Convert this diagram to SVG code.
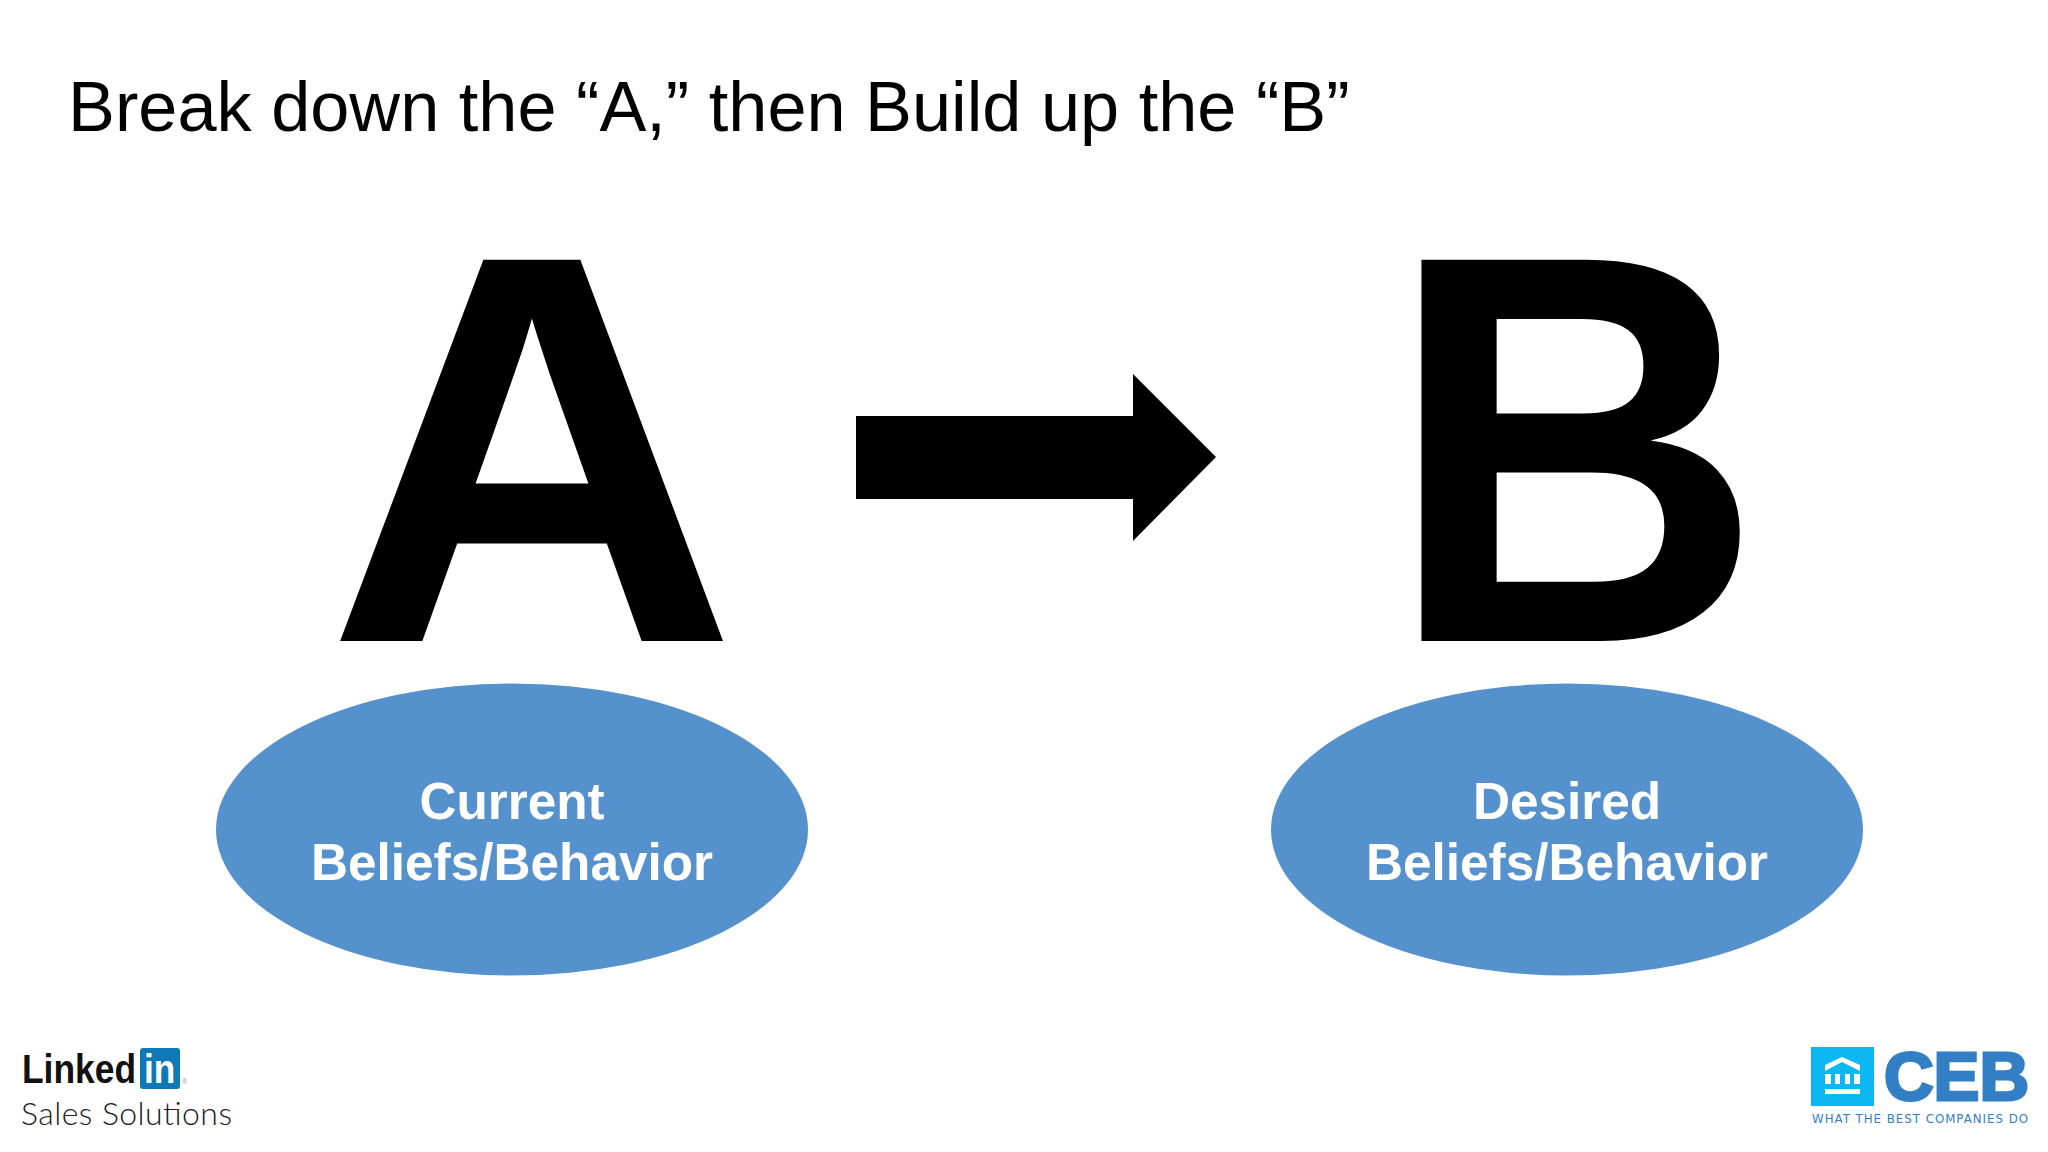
<svg xmlns="http://www.w3.org/2000/svg" width="2048" height="1152" viewBox="0 0 2048 1152">
<style>
text{font-family:"Liberation Sans",Arial,sans-serif}
.big{font-size:554px;font-weight:700;fill:#000;text-anchor:middle}
.lab{font-size:51.3px;font-weight:700;fill:#fff;text-anchor:middle}
.oval{fill:#5591cc}
.w{fill:#fff}
</style>
<rect width="2048" height="1152" fill="#fff"/>
<text id="title" x="68" y="131" font-size="70.3" fill="#000">Break down the “A,” then Build up the “B”</text>
<g id="node-a"><text class="big" transform="translate(532 641) scale(1.03 1)" x="0" y="0">A</text></g>
<g id="node-b"><text class="big" transform="translate(1575 641) scale(.942 1)" x="0" y="0">B</text></g>
<g id="connectors"><polygon points="856,416 1133,416 1133,374 1216,457 1133,541 1133,499 856,499" fill="#000"/></g>
<g id="node-current"><ellipse class="oval" cx="512" cy="829.5" rx="296" ry="146"/><text class="lab" x="512" y="819">Current</text><text class="lab" x="512" y="880">Beliefs/Behavior</text></g>
<g id="node-desired"><ellipse class="oval" cx="1567" cy="829.5" rx="296" ry="146"/><text class="lab" x="1567" y="819">Desired</text><text class="lab" x="1567" y="880">Beliefs/Behavior</text></g>
<g id="logo-linkedin">
<text transform="translate(22 1083) scale(.885 1)" x="0" y="0" font-size="40" font-weight="700" fill="#111">Linked</text>
<rect x="140" y="1048" width="40" height="41" rx="3" fill="#0f79b8"/>
<text transform="translate(144 1083) scale(.88 1)" x="0" y="0" font-size="40" font-weight="700" fill="#fff">in</text>
<text x="182" y="1084" font-size="7" fill="#999">®</text>
<text x="21" y="1125" font-size="32" fill="#222" font-weight="300" style="font-family:Lato,sans-serif" textLength="211">Sales Solutions</text>
</g>
<g id="logo-ceb">
<rect x="1811" y="1047" width="63" height="59" fill="#0db7f2"/>
<polygon class="w" points="1825,1065 1842,1057 1860,1065 1860,1071 1842,1062 1825,1071"/>
<rect class="w" x="1825" y="1074" width="6" height="10"/><rect class="w" x="1835" y="1074" width="5" height="10"/><rect class="w" x="1845" y="1074" width="5" height="10"/><rect class="w" x="1854" y="1074" width="6" height="10"/>
<rect class="w" x="1825" y="1089" width="35" height="5"/>
<text x="1884" y="1100" font-size="68" font-weight="700" fill="#337fc6" stroke="#337fc6" stroke-width="3" textLength="145" lengthAdjust="spacingAndGlyphs">CEB</text>
<text x="1812" y="1123" font-size="11.8" fill="#337fc6" style="font-family:'DejaVu Sans',sans-serif" textLength="216">WHAT THE BEST COMPANIES DO</text>
</g>
</svg>
